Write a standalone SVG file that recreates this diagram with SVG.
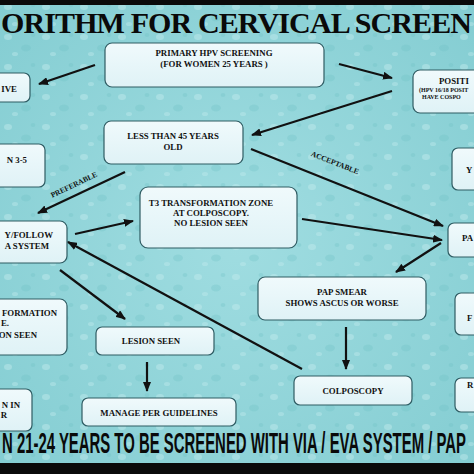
<svg xmlns="http://www.w3.org/2000/svg" width="474" height="474" viewBox="0 0 474 474">
<defs>
<style>
.node rect{fill:url(#nf);stroke:#2f5c63;stroke-width:1.2}
.t{font-family:"Liberation Serif","Times New Roman",serif;font-weight:bold;font-size:8.8px;fill:#111;text-anchor:middle}
.ts{font-family:"Liberation Serif","Times New Roman",serif;font-weight:bold;font-size:6px;fill:#111}
.e{text-anchor:end}
.s{text-anchor:start}
.c line{stroke:#111;stroke-width:2.2;marker-end:url(#ah)}
.lab{font-family:"Liberation Serif","Times New Roman",serif;font-weight:bold;font-size:7.5px;fill:#111;text-anchor:middle}
</style>
<linearGradient id="nf" x1="0" y1="0" x2="0" y2="1">
<stop offset="0" stop-color="#f0fafc"/>
<stop offset="1" stop-color="#dff2f6"/>
</linearGradient>
<radialGradient id="bg" cx="0.5" cy="0.5" r="0.7">
<stop offset="0" stop-color="#a0dde1"/>
<stop offset="1" stop-color="#84cdd2"/>
</radialGradient>
<pattern id="drops" width="38" height="30" patternUnits="userSpaceOnUse">
<ellipse cx="8" cy="7" rx="4" ry="3" fill="#c4eced" opacity="0.45"/>
<ellipse cx="26" cy="18" rx="5" ry="3.5" fill="#6fc0c5" opacity="0.3"/>
<ellipse cx="15" cy="24" rx="3" ry="2" fill="#c4eced" opacity="0.4"/>
<ellipse cx="33" cy="5" rx="2.5" ry="2" fill="#6fc0c5" opacity="0.3"/>
</pattern>
<marker id="ah" markerUnits="userSpaceOnUse" markerWidth="10" markerHeight="8" refX="9" refY="4" orient="auto">
<path d="M0,0 L10,4 L0,8 Z" fill="#111"/>
</marker>
</defs>
<rect x="0" y="0" width="474" height="474" fill="url(#bg)"/>
<rect x="0" y="0" width="474" height="474" fill="url(#drops)"/>
<rect x="0" y="0" width="474" height="5" fill="#0a0a0a"/>
<rect x="0" y="463" width="474" height="11" fill="#0a0a0a"/>
<text x="1" y="33" textLength="471" font-family="Liberation Serif, Times New Roman, serif" font-weight="bold" font-size="30" fill="#0a0a0a">ORITHM FOR CERVICAL SCREEN</text>
<text transform="translate(2,453) scale(1,2.3)" x="0" y="0" textLength="464" lengthAdjust="spacingAndGlyphs" font-family="Liberation Sans, Arial, sans-serif" font-weight="bold" font-size="12.6" fill="#0a0a0a">N 21-24 YEARS TO BE SCREENED WITH VIA / EVA SYSTEM / PAP</text>

<g id="n-primary" class="node"><rect x="105" y="43" width="219" height="44" rx="7"/><text class="t" x="214" y="56">PRIMARY HPV SCREENING</text><text class="t" x="214" y="67">(FOR WOMEN 25 YEARS )</text></g>
<g id="n-less45" class="node"><rect x="104" y="121" width="139" height="43" rx="7"/><text class="t" x="173" y="139">LESS THAN 45 YEARS</text><text class="t" x="173" y="150">OLD</text></g>
<g id="n-negative" class="node"><rect x="-10" y="73" width="40" height="29" rx="6"/><text class="t e" x="17" y="92">IVE</text></g>
<g id="n-repeat" class="node"><rect x="-10" y="144" width="55" height="43" rx="6"/><text class="t e" x="27" y="163">N 3-5</text></g>
<g id="n-follow" class="node"><rect x="-10" y="221" width="77" height="42" rx="7"/><text class="t e" x="53" y="238">Y/FOLLOW</text><text class="t e" x="49" y="249">A SYSTEM</text></g>
<g id="n-t3left" class="node"><rect x="-10" y="299" width="77" height="56" rx="7"/><text class="t e" x="57" y="316">FORMATION</text><text class="t e" x="9" y="326">E.</text><text class="t e" x="37" y="338">ON SEEN</text></g>
<g id="n-bl" class="node"><rect x="-10" y="389" width="42" height="42" rx="6"/><text class="t e" x="20" y="408">N IN</text><text class="t e" x="7" y="418">R</text></g>
<g id="n-t3" class="node"><rect x="140" y="187" width="157" height="61" rx="8"/><text class="t" x="211" y="206">T3 TRANSFORMATION ZONE</text><text class="t" x="211" y="216">AT COLPOSCOPY.</text><text class="t" x="211" y="226">NO LESION SEEN</text></g>
<g id="n-lesion" class="node"><rect x="96" y="327" width="118" height="28" rx="6"/><text class="t" x="151" y="344">LESION SEEN</text></g>
<g id="n-manage" class="node"><rect x="82" y="398" width="154" height="28" rx="6"/><text class="t" x="159" y="416">MANAGE PER GUIDELINES</text></g>
<g id="n-papsmear" class="node"><rect x="258" y="277" width="168" height="43" rx="7"/><text class="t" x="342" y="295">PAP SMEAR</text><text class="t" x="342" y="306">SHOWS ASCUS OR WORSE</text></g>
<g id="n-colpo" class="node"><rect x="294" y="376" width="118" height="29" rx="6"/><text class="t" x="353" y="394">COLPOSCOPY</text></g>
<g id="n-positive" class="node"><rect x="413" y="70" width="75" height="43" rx="7"/><text class="t s" x="439" y="84">POSITI</text><text class="ts s" x="419" y="92">(HPV 16/18 POSIT</text><text class="ts s" x="422" y="99">HAVE COSPO</text></g>
<g id="n-ry" class="node"><rect x="452" y="148" width="36" height="42" rx="6"/><text class="t s" x="466" y="173">Y</text></g>
<g id="n-pa" class="node"><rect x="448" y="223" width="40" height="34" rx="6"/><text class="t s" x="462" y="241">PA</text></g>
<g id="n-rf" class="node"><rect x="455" y="293" width="33" height="42" rx="6"/><text class="t s" x="467" y="321">F</text></g>
<g id="n-rr" class="node"><rect x="455" y="378" width="33" height="34" rx="6"/><text class="t s" x="467" y="388">R</text></g>

<g id="connectors" class="c">
<line x1="95" y1="65" x2="39" y2="84"/>
<line x1="339" y1="64" x2="392" y2="78"/>
<line x1="392" y1="91" x2="252" y2="135"/>
<line x1="251" y1="149" x2="443" y2="226"/>
<line x1="302" y1="219" x2="442" y2="240"/>
<line x1="441" y1="243" x2="396" y2="272"/>
<line x1="125" y1="172" x2="38" y2="213"/>
<line x1="75" y1="234" x2="133" y2="221"/>
<line x1="302" y1="369" x2="68" y2="242"/>
<line x1="346" y1="327" x2="346" y2="369"/>
<line x1="147" y1="362" x2="147" y2="391"/>
<line x1="60" y1="270" x2="125" y2="319"/>
<text class="lab" transform="translate(334,165) rotate(21.5)">ACCEPTABLE</text>
<text class="lab" transform="translate(75,187) rotate(-25.5)">PREFERABLE</text>
</g>
</svg>
